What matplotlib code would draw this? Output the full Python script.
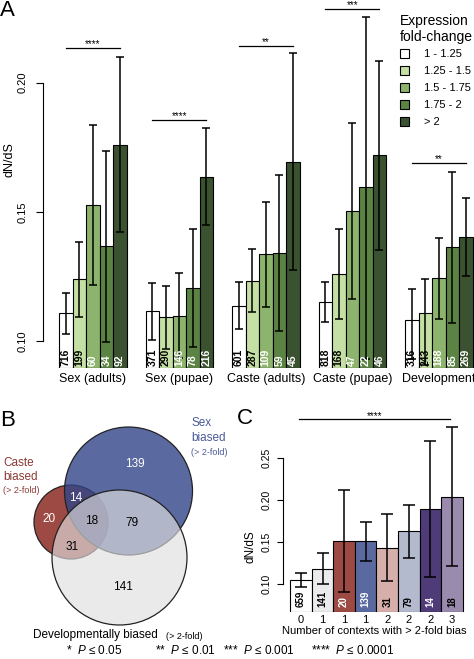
import matplotlib
matplotlib.use("Agg")
import matplotlib.pyplot as plt
import matplotlib.transforms as mtransforms
from matplotlib.patches import Patch, Circle
import numpy as np

plt.rcParams['font.family'] = ['Liberation Sans', 'DejaVu Sans']
plt.rcParams['mathtext.fontset'] = 'custom'
plt.rcParams['mathtext.it'] = 'Liberation Sans:italic'
plt.rcParams['mathtext.rm'] = 'Liberation Sans'

# ---------- data: panel A ----------
contexts = ["Sex (adults)", "Sex (pupae)", "Caste (adults)", "Caste (pupae)", "Development"]
fold_bins = ["1 - 1.25", "1.25 - 1.5", "1.5 - 1.75", "1.75 - 2", "> 2"]
green_colors = ["#ffffff", "#c4e0a4", "#8cb46c", "#5b8444", "#3a5230"]

a_mean = [[0.1109, 0.1240, 0.1527, 0.1368, 0.1760],
          [0.1116, 0.1093, 0.1097, 0.1205, 0.1636],
          [0.1136, 0.1233, 0.1337, 0.1341, 0.1694],
          [0.1151, 0.1260, 0.1504, 0.1597, 0.1720],
          [0.1081, 0.1109, 0.1244, 0.1364, 0.1403]]
a_low = [[0.1027, 0.1093, 0.1217, 0.0996, 0.1422],
         [0.1004, 0.0970, 0.0935, 0.0977, 0.1450],
         [0.1047, 0.1112, 0.1132, 0.1039, 0.1275],
         [0.1074, 0.1085, 0.1163, 0.0930, 0.1353],
         [0.0930, 0.0905, 0.1085, 0.1070, 0.1252]]
a_high = [[0.1186, 0.1384, 0.1837, 0.1736, 0.2100],
          [0.1225, 0.1213, 0.1264, 0.1434, 0.1825],
          [0.1229, 0.1357, 0.1539, 0.1643, 0.2116],
          [0.1229, 0.1434, 0.1845, 0.2256, 0.2085],
          [0.1202, 0.1240, 0.1399, 0.1655, 0.1554]]
a_counts = [[716, 199, 60, 34, 92],
            [371, 290, 146, 78, 216],
            [601, 287, 109, 59, 45],
            [818, 168, 47, 22, 46],
            [316, 243, 188, 85, 269]]
a_sig = ["****", "****", "**", "***", "**"]
a_sig_y = [0.2136, 0.1857, 0.2143, 0.2287, 0.1690]

# ---------- data: panel B ----------
venn_counts = {"sex": 139, "caste": 20, "sex_caste": 14, "all": 18,
               "sex_dev": 79, "caste_dev": 31, "dev": 141}

# ---------- data: panel C ----------
c_labels = ["0", "1", "1", "1", "2", "2", "2", "3"]
c_mean = [0.1048, 0.1179, 0.1512, 0.1512, 0.1433, 0.1631, 0.1893, 0.2036]
c_low = [0.0965, 0.1000, 0.0905, 0.1274, 0.1036, 0.1310, 0.1083, 0.1214]
c_high = [0.1131, 0.1370, 0.2120, 0.1738, 0.1833, 0.1940, 0.2700, 0.2870]
c_counts = [659, 141, 20, 139, 31, 79, 14, 18]
c_colors = ["#ffffff", "#ebebeb", "#9e4a44", "#5a6aa0", "#d6afab", "#b3bace", "#4f3b78", "#9a8aae"]
c_text = ["black", "black", "white", "white", "black", "black", "white", "black"]

W, H = 474, 659
fig = plt.figure(figsize=(W / 100, H / 100), dpi=100)


def px_axes(x0, y0, x1, y1):
    # pixel box (top-left origin) -> figure axes
    return fig.add_axes([x0 / W, 1 - y1 / H, (x1 - x0) / W, (y1 - y0) / H])


# ================= Panel A =================
ax = px_axes(43, 0, 474, 368)
group_gap = 6.4
ax.set_xlim(-1.19, 30.7)
ax.set_ylim(0.0895, 0.232)
for g, name in enumerate(contexts):
    xs = g * group_gap + np.arange(5)
    ax.bar(xs, np.array(a_mean[g]) - 0.0895, bottom=0.0895, width=1, align='edge',
           color=green_colors, edgecolor='black', linewidth=0.8)
    m = np.array(a_mean[g])
    yerr = [m - np.array(a_low[g]), np.array(a_high[g]) - m]
    ax.errorbar(xs + 0.5, m, yerr=yerr, fmt='none', ecolor='black',
                elinewidth=1.1, capsize=2.9, capthick=1.1)
    for i, n in enumerate(a_counts[g]):
        ax.text(xs[i] + 0.5, 0.0903, str(n), rotation=90, ha='center', va='bottom',
                fontsize=7.5, fontweight='bold', color='black' if i < 2 else 'white')
    tr = mtransforms.blended_transform_factory(ax.transData, ax.transAxes)
    ax.text(xs[0] + 2.5, -11 / 368, name, transform=tr, ha='center', va='center', fontsize=9)
    ax.plot([xs[0] + 0.5, xs[4] + 0.5], [a_sig_y[g]] * 2, color='black', lw=0.9, clip_on=False)
    ax.text(xs[0] + 2.5, a_sig_y[g] + 0.0003, a_sig[g], ha='center', va='baseline', fontsize=7,
            clip_on=False)

for s in ['top', 'right', 'bottom']:
    ax.spines[s].set_visible(False)
ax.spines['left'].set_bounds(0.10, 0.20)
ax.spines['left'].set_linewidth(0.8)
ax.set_yticks([0.10, 0.15, 0.20])
ax.set_yticklabels(["0.10", "0.15", "0.20"], rotation=90, va='center', fontsize=8)
ax.tick_params(axis='y', length=5, width=0.8, pad=6)
ax.set_xticks([])
ax.set_ylabel("dN/dS", fontsize=9)
ax.yaxis.set_label_coords(-27 / 431, 1 - 160 / 368)

# legend: title as separate text, entries as a legend
fig.text(400 / W, 1 - 29 / H, "Expression\nfold-change", fontsize=10, va='center', ha='left',
         linespacing=1.15)
handles = [Patch(facecolor=c, edgecolor='black', linewidth=0.8) for c in green_colors]
leg = fig.legend(handles, fold_bins, loc='upper left', bbox_to_anchor=(400 / W, 1 - 49 / H),
                 frameon=False, fontsize=8, handlelength=0.8, handleheight=0.8,
                 labelspacing=0.62, handletextpad=1.4, borderpad=0, borderaxespad=0)

# ================= Panel B =================
axb = px_axes(0, 400, 230, 645)
axb.set_xlim(0, 230)
axb.set_ylim(645, 400)
axb.axis('off')
axb.add_patch(Circle((71, 522), 37, facecolor='#9e4a44', edgecolor='#222222', lw=0.9))
axb.add_patch(Circle((128.5, 491), 64, facecolor=(49 / 255, 69 / 255, 136 / 255, 0.8),
                     edgecolor='#222222', lw=0.9))
axb.add_patch(Circle((119.5, 557.5), 67.5, facecolor=(224 / 255, 224 / 255, 224 / 255, 0.65),
                     edgecolor='#222222', lw=0.9))
venn_pos = {"sex": (135, 464, 'white'), "caste": (49, 519, 'white'), "sex_caste": (76, 498, 'white'),
            "all": (92, 521, 'black'), "sex_dev": (132, 523, 'black'),
            "caste_dev": (72, 547, 'black'), "dev": (123, 587, 'black')}
for k, v in venn_counts.items():
    x, y, col = venn_pos[k]
    axb.text(x, y, str(v), ha='center', va='center', fontsize=8.5, color=col)

red_txt = '#8b3a35'
blue_txt = '#4a5a9a'
axb.text(3, 463, "Caste", fontsize=8.5, color=red_txt, va='center')
axb.text(3, 477, "biased", fontsize=8.5, color=red_txt, va='center')
axb.text(3, 490, "(> 2-fold)", fontsize=6.5, color=red_txt, va='center')
axb.text(191, 423, "Sex", fontsize=8.5, color=blue_txt, va='center')
axb.text(191, 438, "biased", fontsize=8.5, color=blue_txt, va='center')
axb.text(191, 452, "(> 2-fold)", fontsize=6.5, color=blue_txt, va='center')
axb.text(33, 635, "Developmentally biased", fontsize=8.5, va='center')
axb.text(166, 636, "(> 2-fold)", fontsize=6.5, va='center')

# ================= Panel C =================
axc = px_axes(283, 405, 465, 612)
axc.set_xlim(-0.33, 8.1)
axc.set_ylim(0.0667, 0.313)
xc = np.arange(len(c_mean))
cm = np.array(c_mean)
axc.bar(xc, cm - 0.0667, bottom=0.0667, width=1, align='edge', color=c_colors,
        edgecolor='black', linewidth=0.8)
axc.errorbar(xc + 0.5, cm, yerr=[cm - np.array(c_low), np.array(c_high) - cm], fmt='none',
             ecolor='black', elinewidth=1.1, capsize=4.6, capthick=1.1)
for i, n in enumerate(c_counts):
    axc.text(xc[i] + 0.5, 0.0726, str(n), rotation=90, ha='center', va='bottom',
             fontsize=7, fontweight='bold', color=c_text[i])
axc.plot([0.4, 7.4], [0.2964, 0.2964], color='black', lw=0.9, clip_on=False)
axc.text(3.9, 0.2968, "****", ha='center', va='baseline', fontsize=7, clip_on=False)
for s in ['top', 'right', 'bottom']:
    axc.spines[s].set_visible(False)
axc.spines['left'].set_bounds(0.10, 0.25)
axc.spines['left'].set_linewidth(0.8)
axc.set_yticks([0.10, 0.15, 0.20, 0.25])
axc.set_yticklabels(["0.10", "0.15", "0.20", "0.25"], rotation=90, va='center', fontsize=7.5)
axc.tick_params(axis='y', length=4, width=0.8, pad=4)
axc.set_xticks(xc + 0.5)
axc.set_xticklabels(c_labels, fontsize=8)
axc.tick_params(axis='x', length=0, pad=2)
axc.set_ylabel("dN/dS", fontsize=8.5)
axc.yaxis.set_label_coords(-26 / 182, 1 - (547 - 405) / 207)
axc.text(0.5, -(631 - 612) / 207, "Number of contexts with > 2-fold bias",
         transform=axc.transAxes, ha='center', va='center', fontsize=8)

# ================= panel letters & footer =================
fig.text(0 / W, 1 - 10 / H, "A", fontsize=16, va='center', ha='left')
fig.text(0 / W, 1 - 420 / H, "B", fontsize=16, va='center', ha='left')
fig.text(237 / W, 1 - 419 / H, "C", fontsize=16, va='center', ha='left')

foot = [(66, r"*  $P$ ≤ 0.05"), (155, r"**  $P$ ≤ 0.01"), (223, r"***  $P$ ≤ 0.001"),
        (311, r"****  $P$ ≤ 0.0001")]
for x, t in foot:
    fig.text(x / W, 1 - 650 / H, t, fontsize=8.5, va='center', ha='left')

fig.savefig("out.png", dpi=100)
